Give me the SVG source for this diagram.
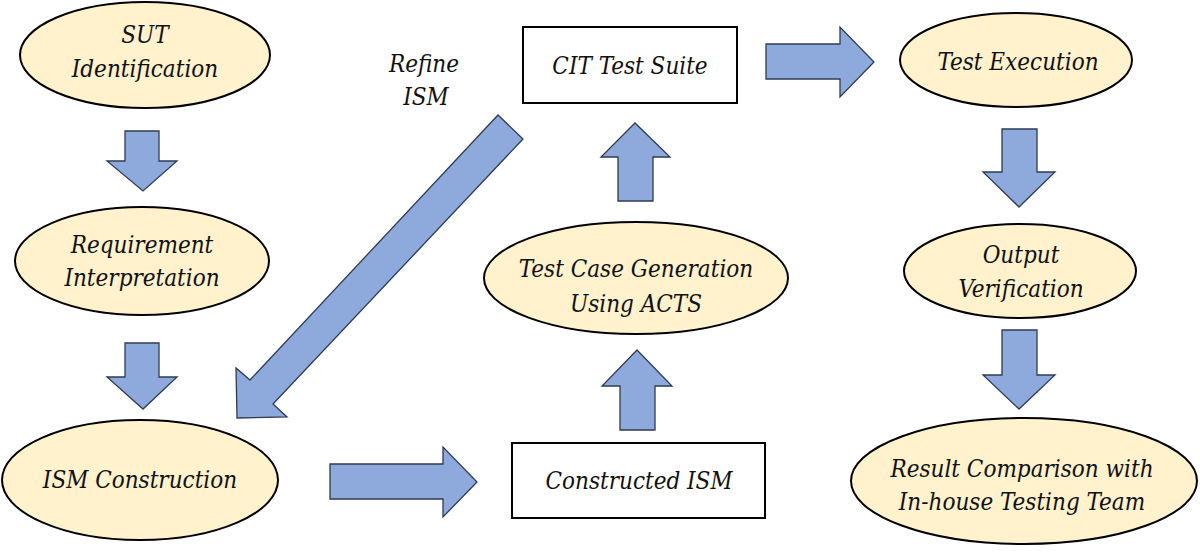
<svg xmlns="http://www.w3.org/2000/svg" width="1200" height="552" viewBox="0 0 1200 552">
<style>
.node ellipse{fill:#FFF2CC;stroke:#000;stroke-width:2}
.node rect{fill:#fff;stroke:#000;stroke-width:2}
text{font-family:'DejaVu Serif Condensed','DejaVu Serif',serif;font-stretch:condensed;font-style:italic;font-size:24px;fill:#111;text-anchor:middle}
.arrow{fill:#8EA9DB;stroke:#2f3b52;stroke-width:1.3;stroke-linejoin:miter}
</style>
<rect width="1200" height="552" fill="#fff"/>
<g id="connectors">
<path class="arrow" d="M125,131 H159 V161 H177 L143,191 L107,161 H125 Z"/>
<path class="arrow" d="M125,343 H159 V377 H177 L143,409 L107,377 H125 Z"/>
<path class="arrow" d="M1002,129 H1037 V172 H1055 L1019,207 L983,172 H1002 Z"/>
<path class="arrow" d="M1002,330 H1037 V375 H1055 L1019,409 L983,375 H1002 Z"/>
<path class="arrow" d="M766,44 H840 V27 L874,62 L840,97 V79 H766 Z"/>
<path class="arrow" d="M330,464 H443 V447 L477,482 L443,517 V499 H330 Z"/>
<path class="arrow" d="M618,201 V157 H601 L635,123 L670,157 H653 V201 Z"/>
<path class="arrow" d="M620,430 V386 H602 L637,350 L672,386 H655 V430 Z"/>
<path class="arrow" d="M498,115 L523,139 L273,404 L287,417 L237,418 L236,368 L250,380 Z"/>
</g>
<g id="sut" class="node">
<ellipse cx="145" cy="55" rx="125" ry="53"/>
<text x="145" y="43">SUT</text>
<text x="145" y="77">Identification</text>
</g>
<g id="req" class="node">
<ellipse cx="142" cy="261" rx="127" ry="54"/>
<text x="142" y="253">Requirement</text>
<text x="142" y="286">Interpretation</text>
</g>
<g id="ismc" class="node">
<ellipse cx="140" cy="480" rx="138" ry="60"/>
<text x="140" y="488">ISM Construction</text>
</g>
<g id="refine">
<text x="424" y="72">Refine</text>
<text x="426" y="105">ISM</text>
</g>
<g id="cit" class="node">
<rect x="523" y="27" width="214" height="76"/>
<text x="630" y="74">CIT Test Suite</text>
</g>
<g id="tcg" class="node">
<ellipse cx="636" cy="278" rx="152" ry="56"/>
<text x="636" y="277">Test Case Generation</text>
<text x="636" y="312">Using ACTS</text>
</g>
<g id="cism" class="node">
<rect x="512" y="443" width="253" height="75"/>
<text x="639" y="489">Constructed ISM</text>
</g>
<g id="exec" class="node">
<ellipse cx="1016" cy="60" rx="116" ry="47"/>
<text x="1018" y="70">Test Execution</text>
</g>
<g id="outv" class="node">
<ellipse cx="1020" cy="271" rx="116" ry="47"/>
<text x="1021" y="263">Output</text>
<text x="1021" y="297">Verification</text>
</g>
<g id="result" class="node">
<ellipse cx="1024" cy="481" rx="173" ry="63"/>
<text x="1022" y="477">Result Comparison with</text>
<text x="1022" y="510">In-house Testing Team</text>
</g>
</svg>
